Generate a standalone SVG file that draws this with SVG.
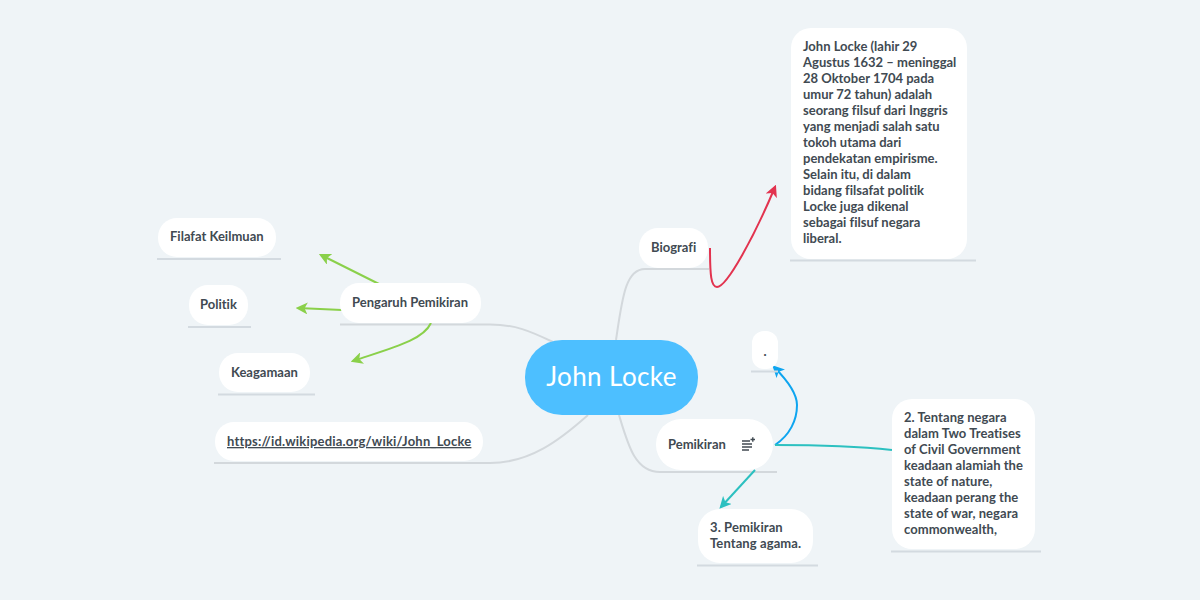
<svg xmlns="http://www.w3.org/2000/svg" width="1200" height="600" viewBox="0 0 1200 600">
<style>
.n{fill:#fff}
.u{fill:none;stroke:#d3dae0;stroke-width:2}
.c{fill:none;stroke:#d3d8dc;stroke-width:2}
.t{font-family:"Lato","Liberation Sans",sans-serif;font-size:13px;font-weight:700;fill:#414a52;font-variant-ligatures:none}
.a{fill:none;stroke-width:2}
</style>
<defs>
<marker id="ag" viewBox="0 0 10 10" refX="8" refY="5" markerWidth="12" markerHeight="12" markerUnits="userSpaceOnUse" orient="auto"><path d="M0 0L10 5L0 10L2.500 5Z" fill="#8ad04a"/></marker>
<marker id="ab" viewBox="0 0 10 10" refX="8" refY="5" markerWidth="12" markerHeight="12" markerUnits="userSpaceOnUse" orient="auto"><path d="M0 0L10 5L0 10L2.500 5Z" fill="#0ea5f0"/></marker>
<marker id="at" viewBox="0 0 10 10" refX="8" refY="5" markerWidth="12" markerHeight="12" markerUnits="userSpaceOnUse" orient="auto"><path d="M0 0L10 5L0 10L2.500 5Z" fill="#2cc0c0"/></marker>
<marker id="ar" viewBox="0 0 10 10" refX="8" refY="5" markerWidth="12" markerHeight="12" markerUnits="userSpaceOnUse" orient="auto"><path d="M0 0L10 5L0 10L2.500 5Z" fill="#e2334f"/></marker>
</defs>
<rect width="1200" height="600" fill="#eff4f7"/>
<g id="connectors">
<path class="c" d="M553 342C530 331 515 324.500 490 324.500H340"/>
<path class="c" d="M588 415C560 440 530 463 490 463H214"/>
<path class="c" d="M616 340C622 300 625 269 645 269H709"/>
<path class="c" d="M619 415C628 445 635 472 660 472H777"/>
<path class="a" stroke="#8ad04a" d="M379 284L321 255" marker-end="url(#ag)"/>
<path class="a" stroke="#8ad04a" d="M342 310L298 308" marker-end="url(#ag)"/>
<path class="a" stroke="#8ad04a" d="M431 323C423 340 395 347 353 361" marker-end="url(#ag)"/>
<path class="a" stroke="#0ea5f0" d="M775 445C790 435 797 420 797 405C797 392 785 378 774 367" marker-end="url(#ab)"/>
<path class="a" stroke="#2cc0c0" d="M775 445C815 445 855 446 892 450"/>
<path class="a" stroke="#2cc0c0" d="M755 470L721 507" marker-end="url(#at)"/>
<path class="a" stroke="#e2334f" d="M710 248C710 275 711 287 717 287C727 287 755 235 775 187" marker-end="url(#ar)"/>
</g>
<g id="center"><rect x="525" y="340" width="173" height="75" rx="37" fill="#4dbfff"/><text x="611.500" y="386" text-anchor="middle" font-family="Lato,'Liberation Sans',sans-serif" font-size="26" letter-spacing="0.400" fill="#fff">John Locke</text></g>
<g id="filafat"><rect class="n" x="158" y="218" width="118" height="39" rx="19"/><path class="u" d="M157 259H281"/><text class="t" x="170" y="241">Filafat Keilmuan</text></g>
<g id="politik"><rect class="n" x="189" y="285" width="59" height="40" rx="19"/><path class="u" d="M188 327H251"/><text class="t" x="200" y="309">Politik</text></g>
<g id="keagamaan"><rect class="n" x="219" y="353" width="91" height="39" rx="19"/><path class="u" d="M218 394.500H315"/><text class="t" x="231" y="377">Keagamaan</text></g>
<g id="link"><rect class="n" x="215" y="422" width="268" height="39" rx="19"/><text class="t" x="227" y="446" letter-spacing="0.200" text-decoration="underline">https://id.wikipedia.org/wiki/John_Locke</text></g>
<g id="pengaruh"><rect class="n" x="340" y="283" width="141" height="40" rx="19"/><text class="t" x="352" y="307">Pengaruh Pemikiran</text></g>
<g id="biografi"><rect class="n" x="639" y="228" width="69" height="40" rx="19"/><text class="t" x="651" y="252">Biografi</text></g>
<g id="bio"><rect class="n" x="791" y="28" width="176" height="231" rx="20"/><path class="u" d="M790 260.500H976"/><text class="t"><tspan x="803" y="51">John Locke (lahir 29</tspan><tspan x="803" y="67">Agustus 1632 – meninggal</tspan><tspan x="803" y="83">28 Oktober 1704 pada</tspan><tspan x="803" y="99">umur 72 tahun) adalah</tspan><tspan x="803" y="115">seorang filsuf dari Inggris</tspan><tspan x="803" y="131">yang menjadi salah satu</tspan><tspan x="803" y="147">tokoh utama dari</tspan><tspan x="803" y="163">pendekatan empirisme.</tspan><tspan x="803" y="179">Selain itu, di dalam</tspan><tspan x="803" y="195">bidang filsafat politik</tspan><tspan x="803" y="211">Locke juga dikenal</tspan><tspan x="803" y="227">sebagai filsuf negara</tspan><tspan x="803" y="243">liberal.</tspan></text></g>
<g id="dot"><rect class="n" x="752" y="331" width="26" height="38" rx="12"/><path class="u" d="M751 371.500H778"/><text class="t" x="765" y="356" text-anchor="middle">.</text></g>
<g id="pemikiran"><rect class="n" x="656" y="419" width="117" height="51" rx="25"/><text class="t" x="668" y="449">Pemikiran</text><path d="M742 441H750M742 444H752M742 447H752M742 450H749" stroke="#414a52" stroke-width="1.500" fill="none"/><path d="M750.500 439.500H755M752.800 437.200V441.800" stroke="#414a52" stroke-width="1.400" fill="none"/></g>
<g id="agama"><rect class="n" x="698" y="509" width="115" height="54" rx="22"/><path class="u" d="M697 565.500H818"/><text class="t" letter-spacing="0.100"><tspan x="710" y="532">3. Pemikiran</tspan><tspan x="710" y="548">Tentang agama.</tspan></text></g>
<g id="negara"><rect class="n" x="892" y="399" width="143" height="150" rx="20"/><path class="u" d="M891 551.500H1041"/><text class="t" letter-spacing="0.050"><tspan x="904" y="422">2. Tentang negara</tspan><tspan x="904" y="438">dalam Two Treatises</tspan><tspan x="904" y="454">of Civil Government</tspan><tspan x="904" y="470">keadaan alamiah the</tspan><tspan x="904" y="486">state of nature,</tspan><tspan x="904" y="502">keadaan perang the</tspan><tspan x="904" y="518">state of war, negara</tspan><tspan x="904" y="534">commonwealth,</tspan></text></g>
</svg>
